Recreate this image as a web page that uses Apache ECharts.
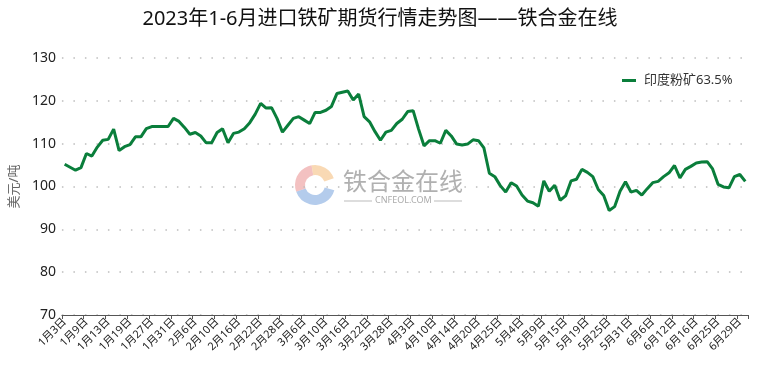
<!DOCTYPE html>
<html>
<head>
<meta charset="utf-8">
<script src="https://cdn.jsdelivr.net/npm/echarts@6/dist/echarts.min.js"></script>
<style>
html,body{margin:0;padding:0;background:#fff;}
#chart{width:760px;height:372px;}
</style>
</head>
<body>
<div id="chart"></div>
<script>
const titleText = '2023年1-6月进口铁矿期货行情走势图——铁合金在线';
const seriesName = '印度粉矿63.5%';
const yAxisName = '美元/吨';
const categories = [
 '1月3日','1月4日','1月5日','1月6日','1月9日','1月10日','1月11日','1月12日',
 '1月13日','1月16日','1月17日','1月18日','1月19日','1月20日','1月25日','1月26日',
 '1月27日','1月28日','1月29日','1月30日','1月31日','2月1日','2月2日','2月3日',
 '2月6日','2月7日','2月8日','2月9日','2月10日','2月13日','2月14日','2月15日',
 '2月16日','2月17日','2月20日','2月21日','2月22日','2月23日','2月24日','2月27日',
 '2月28日','3月1日','3月2日','3月3日','3月6日','3月7日','3月8日','3月9日',
 '3月10日','3月13日','3月14日','3月15日','3月16日','3月17日','3月20日','3月21日',
 '3月22日','3月23日','3月24日','3月27日','3月28日','3月29日','3月30日','3月31日',
 '4月3日','4月4日','4月6日','4月7日','4月10日','4月11日','4月12日','4月13日',
 '4月14日','4月17日','4月18日','4月19日','4月20日','4月21日','4月23日','4月24日',
 '4月25日','4月26日','4月27日','4月28日','5月4日','5月5日','5月6日','5月8日',
 '5月9日','5月10日','5月11日','5月12日','5月15日','5月16日','5月17日','5月18日',
 '5月19日','5月22日','5月23日','5月24日','5月25日','5月26日','5月29日','5月30日',
 '5月31日','6月1日','6月2日','6月5日','6月6日','6月7日','6月8日','6月9日',
 '6月12日','6月13日','6月14日','6月15日','6月16日','6月19日','6月20日','6月21日',
 '6月25日','6月26日','6月27日','6月28日','6月29日','6月30日'
];
const values = [
 105.2,104.5,103.8,104.4,107.7,107.1,109.2,110.8,
 111.0,113.4,108.4,109.3,109.8,111.6,111.6,113.5,
 114.0,114.0,114.0,114.0,115.9,115.2,113.8,112.2,
 112.6,111.8,110.2,110.2,112.6,113.5,110.2,112.4,
 112.7,113.5,114.9,116.9,119.4,118.3,118.4,115.9,
 112.7,114.3,115.9,116.3,115.5,114.7,117.3,117.3,
 117.8,118.7,121.7,122.0,122.3,120.2,121.6,116.3,
 115.1,112.8,110.8,112.7,113.1,114.7,115.7,117.5,
 117.7,113.4,109.5,110.7,110.7,110.1,113.1,111.8,
 109.9,109.7,109.9,110.9,110.7,109.0,103.1,102.3,
 100.2,98.7,100.9,100.1,98.0,96.6,96.2,95.4,
 101.3,98.9,100.3,96.8,97.8,101.3,101.7,104.0,
 103.3,102.3,99.3,97.9,94.4,95.3,98.9,101.1,
 98.7,99.1,98.0,99.5,100.9,101.2,102.3,103.2,
 104.9,102.0,104.0,104.7,105.5,105.7,105.8,104.1,
 100.5,99.9,99.7,102.3,102.8,101.2
];
const yMin = 70, yMax = 130, yStep = 10;

const FONT = '"Noto Sans","Noto Sans CJK SC",sans-serif';
const chart = echarts.init(document.getElementById('chart'), null, {renderer:'canvas'});
const deg = Math.PI/180;
const cx = 315, cy = 185;
chart.setOption({
  backgroundColor:'#fff',
  animation:false,
  textStyle:{fontFamily:FONT},
  title:{
    text:titleText, left:'center', top:4,
    textStyle:{fontSize:20, fontWeight:'normal', color:'#111', fontFamily:FONT}
  },
  legend:{
    data:[seriesName], left:617, top:69,
    icon:'rect', itemWidth:14, itemHeight:3,
    textStyle:{fontSize:13, color:'#333', fontFamily:FONT, padding:[0,0,0,3]}
  },
  grid:{left:55, right:12, top:58, bottom:57, containLabel:false},
  xAxis:{
    type:'category', data:categories, boundaryGap:true,
    axisLine:{show:true, lineStyle:{color:'#555', width:1}},
    axisTick:{show:true, interval:3, length:4, lineStyle:{color:'#555'}},
    axisLabel:{interval:3, rotate:45, fontSize:11, color:'#222', margin:5, fontFamily:FONT},
    splitLine:{show:false}
  },
  yAxis:{
    type:'value', min:yMin, max:yMax, interval:yStep,
    name:yAxisName, nameLocation:'middle', nameGap:36, nameRotate:90,
    nameTextStyle:{fontSize:13, color:'#666', fontFamily:FONT},
    axisLine:{show:false}, axisTick:{show:false},
    axisLabel:{fontSize:14, color:'#222', margin:6, fontFamily:FONT},
    splitLine:{show:true, lineStyle:{color:'#bdbdbd', width:1.5, type:[1.5,10]}}
  },
  graphic:[
    {type:'group', z:1, silent:true, children:[
      {type:'sector', shape:{cx:cx, cy:cy, r:20, r0:10, startAngle:160*deg, endAngle:260*deg}, style:{fill:'rgba(236,160,160,0.65)'}},
      {type:'sector', shape:{cx:cx, cy:cy, r:20, r0:10, startAngle:260*deg, endAngle:340*deg}, style:{fill:'rgba(246,196,140,0.65)'}},
      {type:'sector', shape:{cx:cx, cy:cy, r:20, r0:10, startAngle:15*deg, endAngle:160*deg}, style:{fill:'rgba(140,176,226,0.65)'}},
      {type:'text', x:343, y:169, style:{text:'铁合金在线', fontSize:24, fill:'rgba(150,150,150,0.75)', fontFamily:'"Noto Sans CJK SC",sans-serif'}},
      {type:'text', x:375, y:196, style:{text:'CNFEOL.COM', fontSize:9, fill:'rgba(150,150,150,0.8)', fontFamily:FONT}},
      {type:'line', shape:{x1:344, y1:201, x2:372, y2:201}, style:{stroke:'rgba(170,170,170,0.8)', lineWidth:1}},
      {type:'line', shape:{x1:434, y1:201, x2:462, y2:201}, style:{stroke:'rgba(170,170,170,0.8)', lineWidth:1}}
    ]}
  ],
  series:[{
    name:seriesName, type:'line', data:values, z:3,
    showSymbol:false, symbol:'none', smooth:false,
    lineStyle:{color:'#0a7e3b', width:3},
    itemStyle:{color:'#0a7e3b'}
  }]
});
</script>
</body>
</html>
